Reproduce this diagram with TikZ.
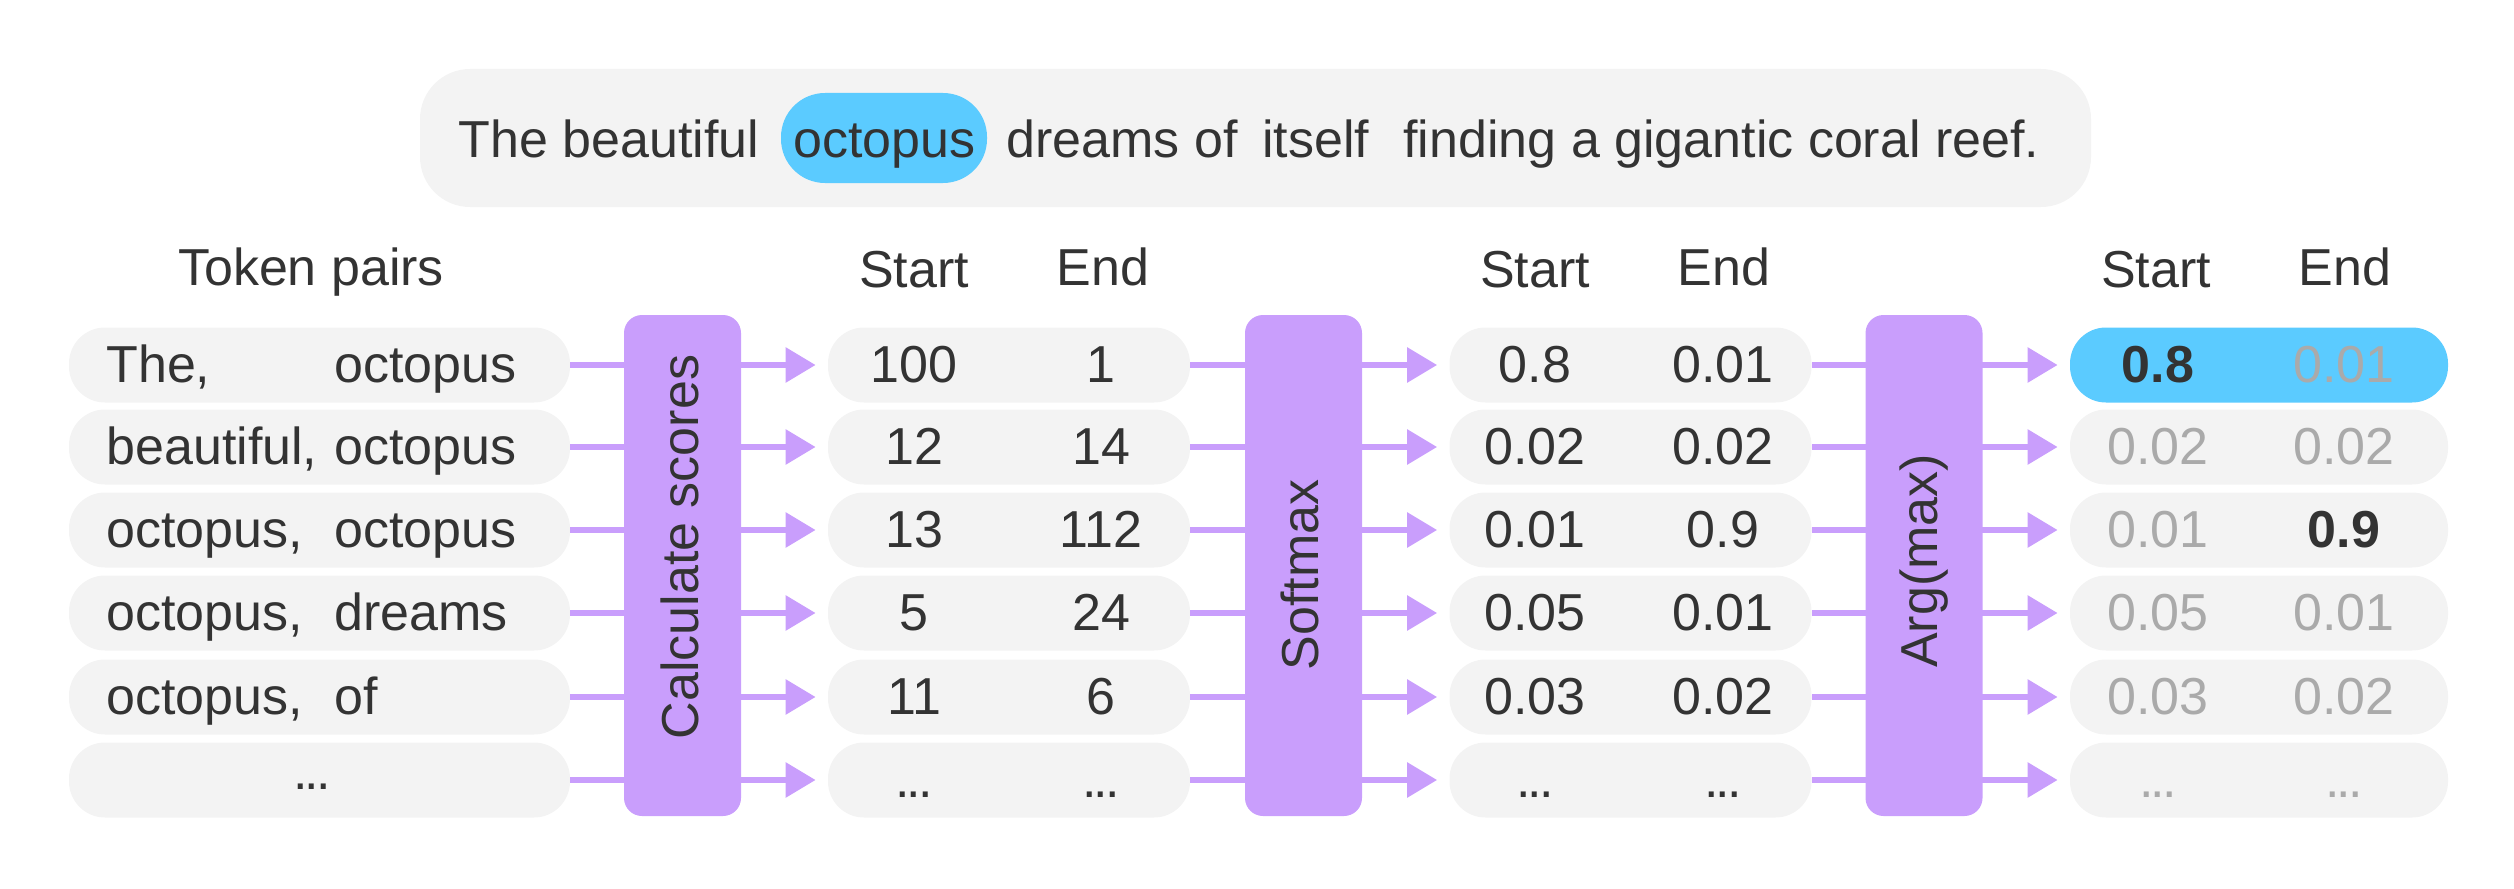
\documentclass[tikz,border=0pt]{standalone}
\usepackage{fontspec}
\setmainfont{Liberation Sans}
\usetikzlibrary{arrows.meta,positioning,calc}

\definecolor{boxgray}{HTML}{F3F3F3}
\definecolor{stagepurple}{HTML}{C99EFC}
\definecolor{hlblue}{HTML}{5BCBFF}
\definecolor{ink}{HTML}{333333}
\definecolor{inkgray}{HTML}{AAAAAA}
\newcommand{\dotz}{.\kern-1.5pt.\kern-1.5pt.}

\begin{document}
\begin{tikzpicture}[x=0.5pt, y=-0.5pt]
	\tikzset{
	  basic/.style     = {inner sep=0pt, text=ink, font=\fontsize{26}{30}\selectfont},
	  pill/.style      = {basic, fill=boxgray, rounded corners=18pt, minimum height=37.5pt},
	  pair/.style      = {pill, minimum width=250.5pt},
	  score/.style     = {pill, minimum width=181pt},
	  res/.style       = {pill, minimum width=189pt},
	  stage/.style     = {basic, fill=stagepurple, rounded corners=9pt,
	                      minimum width=58.5pt, minimum height=250.5pt},
	  stagetext/.style = {basic, rotate=90},
	  flow/.style      = {draw=stagepurple, line width=3pt, shorten >=6pt,
	                      -{Triangle[length=15pt, width=17pt]}}
	}
	\useasboundingbox (0,0) rectangle (2514,888);

	% the sentence on top
	\node[basic, fill=boxgray, rounded corners=25pt, minimum width=835.5pt,
	      minimum height=69pt] (sentence) at (1255.5,138) {};
	\node[basic, fill=hlblue, rounded corners=22pt, minimum width=103pt,
	      minimum height=45pt] (octo) at (884,138) {};
	\node[basic, anchor=base west] (w1) at (458,157) {The beautiful};
	\node[basic, anchor=base] (w2) at (884.5,157) {octopus};
	\node[basic, anchor=base west] (w3) at (1006,157) {dreams of};
	\node[basic, anchor=base west] (w4) at (1262,157) {itself};
	\node[basic, anchor=base west] (w5) at (1403,157) {finding a gigantic coral reef.};

	% column heads
	\node[basic, anchor=base] (hpairs) at (311,285) {Token pairs};
	\foreach \cx/\nm in {828/score, 1449/soft, 2070/res} {
	  \node[basic, anchor=base] (hstart-\nm) at (\cx+86,287) {Start};
	  \node[basic, anchor=base] (hend-\nm) at (\cx+275,285) {End};
	}

	% token pairs
	\foreach \y/\a/\b [count=\i] in {365/{The,}/octopus, 447/{beautiful,}/octopus,
	    530/{octopus,}/octopus, 613/{octopus,}/dreams, 697/{octopus,}/of} {
	  \node[pair] (pair\i) at (319.5,\y) {};
	  \node[basic, anchor=base west] (pa\i) at (106,\y+17) {\a};
	  \node[basic, anchor=base west] (pb\i) at (334,\y+17) {\b};
	}
	\node[pair] (pair6) at (319.5,780) {};
	\node[basic, anchor=base] (pa6) at (312,789) {\dotz};

	% scores
	\foreach \y/\s/\e [count=\i] in {365/100/1, 447/12/14, 530/13/112,
	    613/5/24, 697/11/6, 780/\dotz/\dotz} {
	  \node[score] (score\i) at (1009,\y) {};
	  \node[basic, anchor=base] (ss\i) at (914,\y+17) {\s};
	  \node[basic, anchor=base] (se\i) at (1101,\y+17) {\e};
	}

	% softmax values
	\foreach \y/\s/\e [count=\i] in {365/0.8/0.01, 447/0.02/0.02, 530/0.01/0.9,
	    613/0.05/0.01, 697/0.03/0.02, 780/\dotz/\dotz} {
	  \node[score] (soft\i) at (1630.5,\y) {};
	  \node[basic, anchor=base] (fs\i) at (1535,\y+17) {\s};
	  \node[basic, anchor=base] (fe\i) at (1723,\y+17) {\e};
	}

	% arg(max) result
	\foreach \y/\s/\e/\bg/\cs/\ce [count=\i] in {
	    365/\textbf{0.8}/0.01/hlblue/ink/inkgray,
	    447/0.02/0.02/boxgray/inkgray/inkgray,
	    530/0.01/\textbf{0.9}/boxgray/inkgray/ink,
	    613/0.05/0.01/boxgray/inkgray/inkgray,
	    697/0.03/0.02/boxgray/inkgray/inkgray,
	    780/\dotz/\dotz/boxgray/inkgray/inkgray} {
	  \node[res, fill=\bg] (res\i) at (2259,\y) {};
	  \node[basic, anchor=base, text=\cs] (rs\i) at (2158,\y+17) {\s};
	  \node[basic, anchor=base, text=\ce] (re\i) at (2344,\y+17) {\e};
	}

	\foreach \i in {1,...,6} {
	  \draw[flow] (pair\i) -- (score\i);
	  \draw[flow] (score\i) -- (soft\i);
	  \draw[flow] (soft\i) -- (res\i);
	}

	% the three stages
	\node[stage] (calc) at (682.5,565.5) {};
	\node[stagetext] (calc-t) at (680,547) {Calculate scores};
	\node[stage] (softmax) at (1303.5,565.5) {};
	\node[stagetext] (softmax-t) at (1300,575) {Softmax};
	\node[stage] (argmax) at (1924,565.5) {};
	\node[stagetext] (argmax-t) at (1924,561) {Arg(max)};
\end{tikzpicture}
\end{document}
